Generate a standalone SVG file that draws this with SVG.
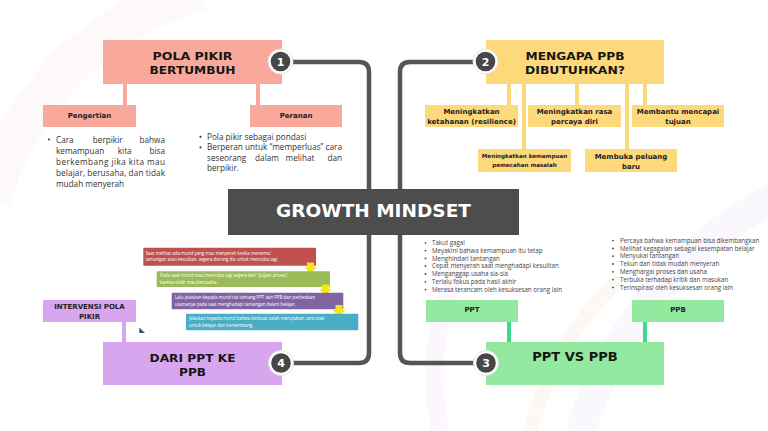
<svg xmlns="http://www.w3.org/2000/svg" width="768" height="431" viewBox="0 0 768 431">
<style>
.h{font-family:"DejaVu Sans",sans-serif;font-weight:bold;font-size:11px;fill:#151515;text-anchor:middle}
.lb{font-family:"DejaVu Sans",sans-serif;font-weight:bold;font-size:7px;fill:#222;text-anchor:middle}
.lbs{font-family:"DejaVu Sans",sans-serif;font-weight:bold;font-size:5.6px;fill:#222;text-anchor:middle}
.b{font-family:"Open Sans",sans-serif;font-size:8.2px;fill:#333}
.li{font-family:"Open Sans",sans-serif;font-size:6.2px;fill:#444}
.st{font-family:"Open Sans",sans-serif;font-size:4.4px;fill:#fff}
.num{font-family:"DejaVu Sans",sans-serif;font-weight:bold;font-size:11px;fill:#fff;text-anchor:middle}
.bul{fill:#444}
.arr{fill:#f3e51b}
</style>
<rect width="768" height="431" fill="#ffffff"/>
<g id="background" fill="none">
<path d="M -10 200 Q 40 40 200 -10" stroke="#fbeeee" stroke-width="40" opacity="0.35"/>
<path d="M 440 431 Q 420 330 470 250" stroke="#f8f2fb" stroke-width="18" opacity="0.6"/>
<path d="M 530 431 Q 560 330 620 280" stroke="#fdf3ef" stroke-width="14" opacity="0.6"/>
<path d="M 580 431 Q 640 260 790 190" stroke="#f6f1fa" stroke-width="30" opacity="0.5"/>
</g>
<g id="connectors" fill="none">
<path d="M 280 62 H 359 Q 369 62 369 72 V 353 Q 369 363 359 363 H 281" stroke="#555555" stroke-width="4.5"/>
<path d="M 486 62 H 410 Q 400 62 400 72 V 353 Q 400 363 410 363 H 486" stroke="#555555" stroke-width="4.5"/>
<g stroke="#f8a99b" stroke-width="4"><line x1="125" y1="84" x2="125" y2="105"/><line x1="258" y1="84" x2="258" y2="105"/></g>
<g stroke="#fdd97c" stroke-width="4"><line x1="509" y1="84" x2="509" y2="105"/><line x1="524" y1="84" x2="524" y2="149"/><line x1="577" y1="84" x2="577" y2="105"/><line x1="627" y1="84" x2="627" y2="149"/><line x1="645" y1="84" x2="645" y2="105"/></g>
<g stroke="#3ddc8a" stroke-width="4"><line x1="509" y1="322" x2="509" y2="342"/><line x1="645" y1="322" x2="645" y2="342"/></g>
<g stroke="#d8a6ef" stroke-width="4"><line x1="124" y1="322" x2="124" y2="342"/></g>
</g>
<g id="center">
<rect x="228" y="189" width="291" height="46" fill="#4d4d4d"/>
<text x="373.5" y="217" class="h" style="font-size:18.5px;fill:#fff">GROWTH MINDSET</text>
</g>
<g id="node1">
<rect x="103" y="40" width="179" height="44" fill="#f8a99b"/>
<text x="192.5" y="59.5" class="h" textLength="80" lengthAdjust="spacingAndGlyphs">POLA PIKIR</text>
<text x="192.5" y="73.5" class="h" textLength="86" lengthAdjust="spacingAndGlyphs">BERTUMBUH</text>
</g>
<g id="pengertian">
<rect x="43" y="105" width="93" height="22" fill="#f8a99b"/>
<text x="89.5" y="117.5" class="lb">Pengertian</text>
<circle cx="49" cy="139.5" r="1.1" class="bul"/>
<text class="b" y="142.5"><tspan x="56">Cara</tspan><tspan x="107.7" text-anchor="middle">berpikir</tspan><tspan x="165" text-anchor="end">bahwa</tspan></text>
<text class="b" y="153.5"><tspan x="56">kemampuan</tspan><tspan x="124.7" text-anchor="middle">kita</tspan><tspan x="165" text-anchor="end">bisa</tspan></text>
<text class="b" x="56" y="164.5" textLength="109" lengthAdjust="spacing">berkembang jika kita mau</text>
<text class="b" x="56" y="175.5" textLength="109" lengthAdjust="spacing">belajar, berusaha, dan tidak</text>
<text class="b" x="56" y="186.5">mudah menyerah</text>
</g>
<g id="peranan">
<rect x="250" y="105" width="92" height="22" fill="#f8a99b"/>
<text x="296" y="117.5" class="lb">Peranan</text>
<circle cx="200.5" cy="136.8" r="1.1" class="bul"/>
<circle cx="200.5" cy="147.4" r="1.1" class="bul"/>
<text class="b" x="207" y="139.7">Pola pikir sebagai pondasi</text>
<text class="b" x="207" y="150.3" textLength="135" lengthAdjust="spacing">Berperan untuk “memperluas” cara</text>
<text class="b" y="160.8"><tspan x="207">seseorang</tspan><tspan x="267" text-anchor="middle">dalam</tspan><tspan x="300" text-anchor="middle">melihat</tspan><tspan x="342" text-anchor="end">dan</tspan></text>
<text class="b" x="207" y="171.3">berpikir.</text>
</g>
<g id="node2">
<rect x="486" y="40" width="178" height="44" fill="#fdd97c"/>
<text x="575" y="59.5" class="h" textLength="99" lengthAdjust="spacingAndGlyphs">MENGAPA PPB</text>
<text x="575" y="73.5" class="h" textLength="100" lengthAdjust="spacingAndGlyphs">DIBUTUHKAN?</text>
</g>
<g id="ketahanan">
<rect x="425" y="105" width="93" height="22" fill="#fdd97c"/>
<text x="471.5" y="113.6" class="lb">Meningkatkan</text>
<text x="471.5" y="124.3" class="lb">ketahanan (resilience)</text>
</g>
<g id="percaya">
<rect x="528" y="105" width="93" height="22" fill="#fdd97c"/>
<text x="574.5" y="113.6" class="lb">Meningkatkan rasa</text>
<text x="574.5" y="124.3" class="lb">percaya diri</text>
</g>
<g id="tujuan">
<rect x="632" y="105" width="92" height="22" fill="#fdd97c"/>
<text x="678" y="113.6" class="lb">Membantu mencapai</text>
<text x="678" y="124.3" class="lb">tujuan</text>
</g>
<g id="pemecahan">
<rect x="478" y="149" width="93" height="23" fill="#fdd97c"/>
<text x="524.5" y="157.8" class="lbs">Meningkatkan kemampuan</text>
<text x="524.5" y="167.3" class="lbs">pemecahan masalah</text>
</g>
<g id="peluang">
<rect x="585" y="149" width="92" height="23" fill="#fdd97c"/>
<text x="631" y="158.6" class="lb">Membuka peluang</text>
<text x="631" y="169.3" class="lb">baru</text>
</g>
<g id="ppt-list">
<g class="bul"><circle cx="425.5" cy="242.8" r="0.9"/><circle cx="425.5" cy="250.6" r="0.9"/><circle cx="425.5" cy="258.4" r="0.9"/><circle cx="425.5" cy="266.2" r="0.9"/><circle cx="425.5" cy="274" r="0.9"/><circle cx="425.5" cy="281.8" r="0.9"/><circle cx="425.5" cy="289.6" r="0.9"/></g>
<text class="li" x="432" y="245">Takut gagal</text>
<text class="li" x="432" y="252.8">Meyakini bahwa kemampuan itu tetap</text>
<text class="li" x="432" y="260.6">Menghindari tantangan</text>
<text class="li" x="432" y="268.4">Cepat menyerah saat menghadapi kesulitan</text>
<text class="li" x="432" y="276.2">Menganggap usaha sia-sia</text>
<text class="li" x="432" y="284">Terlalu fokus pada hasil akhir</text>
<text class="li" x="432" y="291.8">Merasa terancam oleh kesuksesan orang lain</text>
</g>
<g id="ppb-list">
<g class="bul"><circle cx="613" cy="240.6" r="0.9"/><circle cx="613" cy="248.4" r="0.9"/><circle cx="613" cy="256.2" r="0.9"/><circle cx="613" cy="264" r="0.9"/><circle cx="613" cy="271.8" r="0.9"/><circle cx="613" cy="279.6" r="0.9"/><circle cx="613" cy="287.4" r="0.9"/></g>
<text class="li" x="620" y="242.8">Percaya bahwa kemampuan bisa dikembangkan</text>
<text class="li" x="620" y="250.6">Melihat kegagalan sebagai kesempatan belajar</text>
<text class="li" x="620" y="258.4">Menyukai tantangan</text>
<text class="li" x="620" y="266.2">Tekun dan tidak mudah menyerah</text>
<text class="li" x="620" y="274">Menghargai proses dan usaha</text>
<text class="li" x="620" y="281.8">Terbuka terhadap kritik dan masukan</text>
<text class="li" x="620" y="289.6">Terinspirasi oleh kesuksesan orang lain</text>
</g>
<g id="ppt">
<rect x="426" y="300" width="92" height="22" fill="#93e9a0"/>
<text x="472" y="312.3" class="lb">PPT</text>
</g>
<g id="ppb">
<rect x="632" y="300" width="92" height="22" fill="#93e9a0"/>
<text x="678" y="312.3" class="lb">PPB</text>
</g>
<g id="node3">
<rect x="486" y="342" width="178" height="43" fill="#93e9a0"/>
<text x="575" y="361" class="h" style="font-size:13px">PPT VS PPB</text>
</g>
<g id="intervensi">
<rect x="43" y="300" width="93" height="22" fill="#d8a6ef"/>
<text x="89.5" y="308.6" class="lb">INTERVENSI POLA</text>
<text x="89.5" y="319.2" class="lb">PIKIR</text>
</g>
<g id="node4">
<rect x="103" y="342" width="179" height="43" fill="#d8a6ef"/>
<text x="192.5" y="361.5" class="h" textLength="86" lengthAdjust="spacingAndGlyphs">DARI PPT KE</text>
<text x="192.5" y="375.5" class="h" textLength="27" lengthAdjust="spacingAndGlyphs">PPB</text>
</g>
<polygon points="139.3,327.5 139.3,333 145,333" fill="#1f5a80"/>
<g id="steps">
<rect x="143.3" y="247.7" width="172.7" height="18" rx="1" fill="#c0504d"/>
<text class="st" x="145.7" y="254.8">Saat melihat ada murid yang  mau menyerah ketika menemui</text>
<text class="st" x="145.7" y="260.8">tantangan atau kesulitan, segera dorong dia untuk mencoba lagi.</text>
<path class="arr" d="M 307 262.5 H 314 V 267.2 H 317 L 310.5 273.5 L 304 267.2 H 307 Z"/>
<rect x="156.7" y="271.3" width="173.3" height="15.7" rx="1" fill="#9bbb59"/>
<text class="st" x="160" y="276.8">Pada saat murid mau mencoba lagi segera beri “pujian proses”</text>
<text class="st" x="160" y="283.5">karena telah mau berusaha.</text>
<path class="arr" d="M 322 284.5 H 329 V 289 H 332 L 325.5 295.5 L 319 289 H 322 Z"/>
<rect x="171.7" y="292.7" width="171.6" height="16.6" rx="1" fill="#8064a2"/>
<text class="st" x="175" y="298.8">Lalu jelaskan kepada murid tsb tentang PPT dan PPB dan perbedaan</text>
<text class="st" x="175" y="305.5">utamanya pada saat menghadapi tantangan dalam belajar.</text>
<path class="arr" d="M 335.5 305 H 342.5 V 310 H 345.5 L 339 316.5 L 332.5 310 H 335.5 Z"/>
<rect x="186" y="313.7" width="172.3" height="16.6" rx="1" fill="#4bacc6"/>
<text class="st" x="189" y="320.2">Jelaskan kepada murid bahwa berbuat salah merupakan cara otak</text>
<text class="st" x="189" y="326.8">untuk belajar dan berkembang.</text>
</g>
<g id="badges">
<g><circle cx="280.5" cy="61.5" r="12.5" fill="#fff" stroke="#e4e4e4" stroke-width="1"/><circle cx="280.5" cy="61.5" r="9.8" fill="#474747"/><text x="280.5" y="65.5" class="num">1</text></g>
<g><circle cx="485.5" cy="61.5" r="12.5" fill="#fff" stroke="#e4e4e4" stroke-width="1"/><circle cx="485.5" cy="61.5" r="9.8" fill="#474747"/><text x="485.5" y="65.5" class="num">2</text></g>
<g><circle cx="486" cy="363" r="12.5" fill="#fff" stroke="#e4e4e4" stroke-width="1"/><circle cx="486" cy="363" r="9.8" fill="#474747"/><text x="486" y="367" class="num">3</text></g>
<g><circle cx="281" cy="363" r="12.5" fill="#fff" stroke="#e4e4e4" stroke-width="1"/><circle cx="281" cy="363" r="9.8" fill="#474747"/><text x="281" y="367" class="num">4</text></g>
</g>
</svg>
